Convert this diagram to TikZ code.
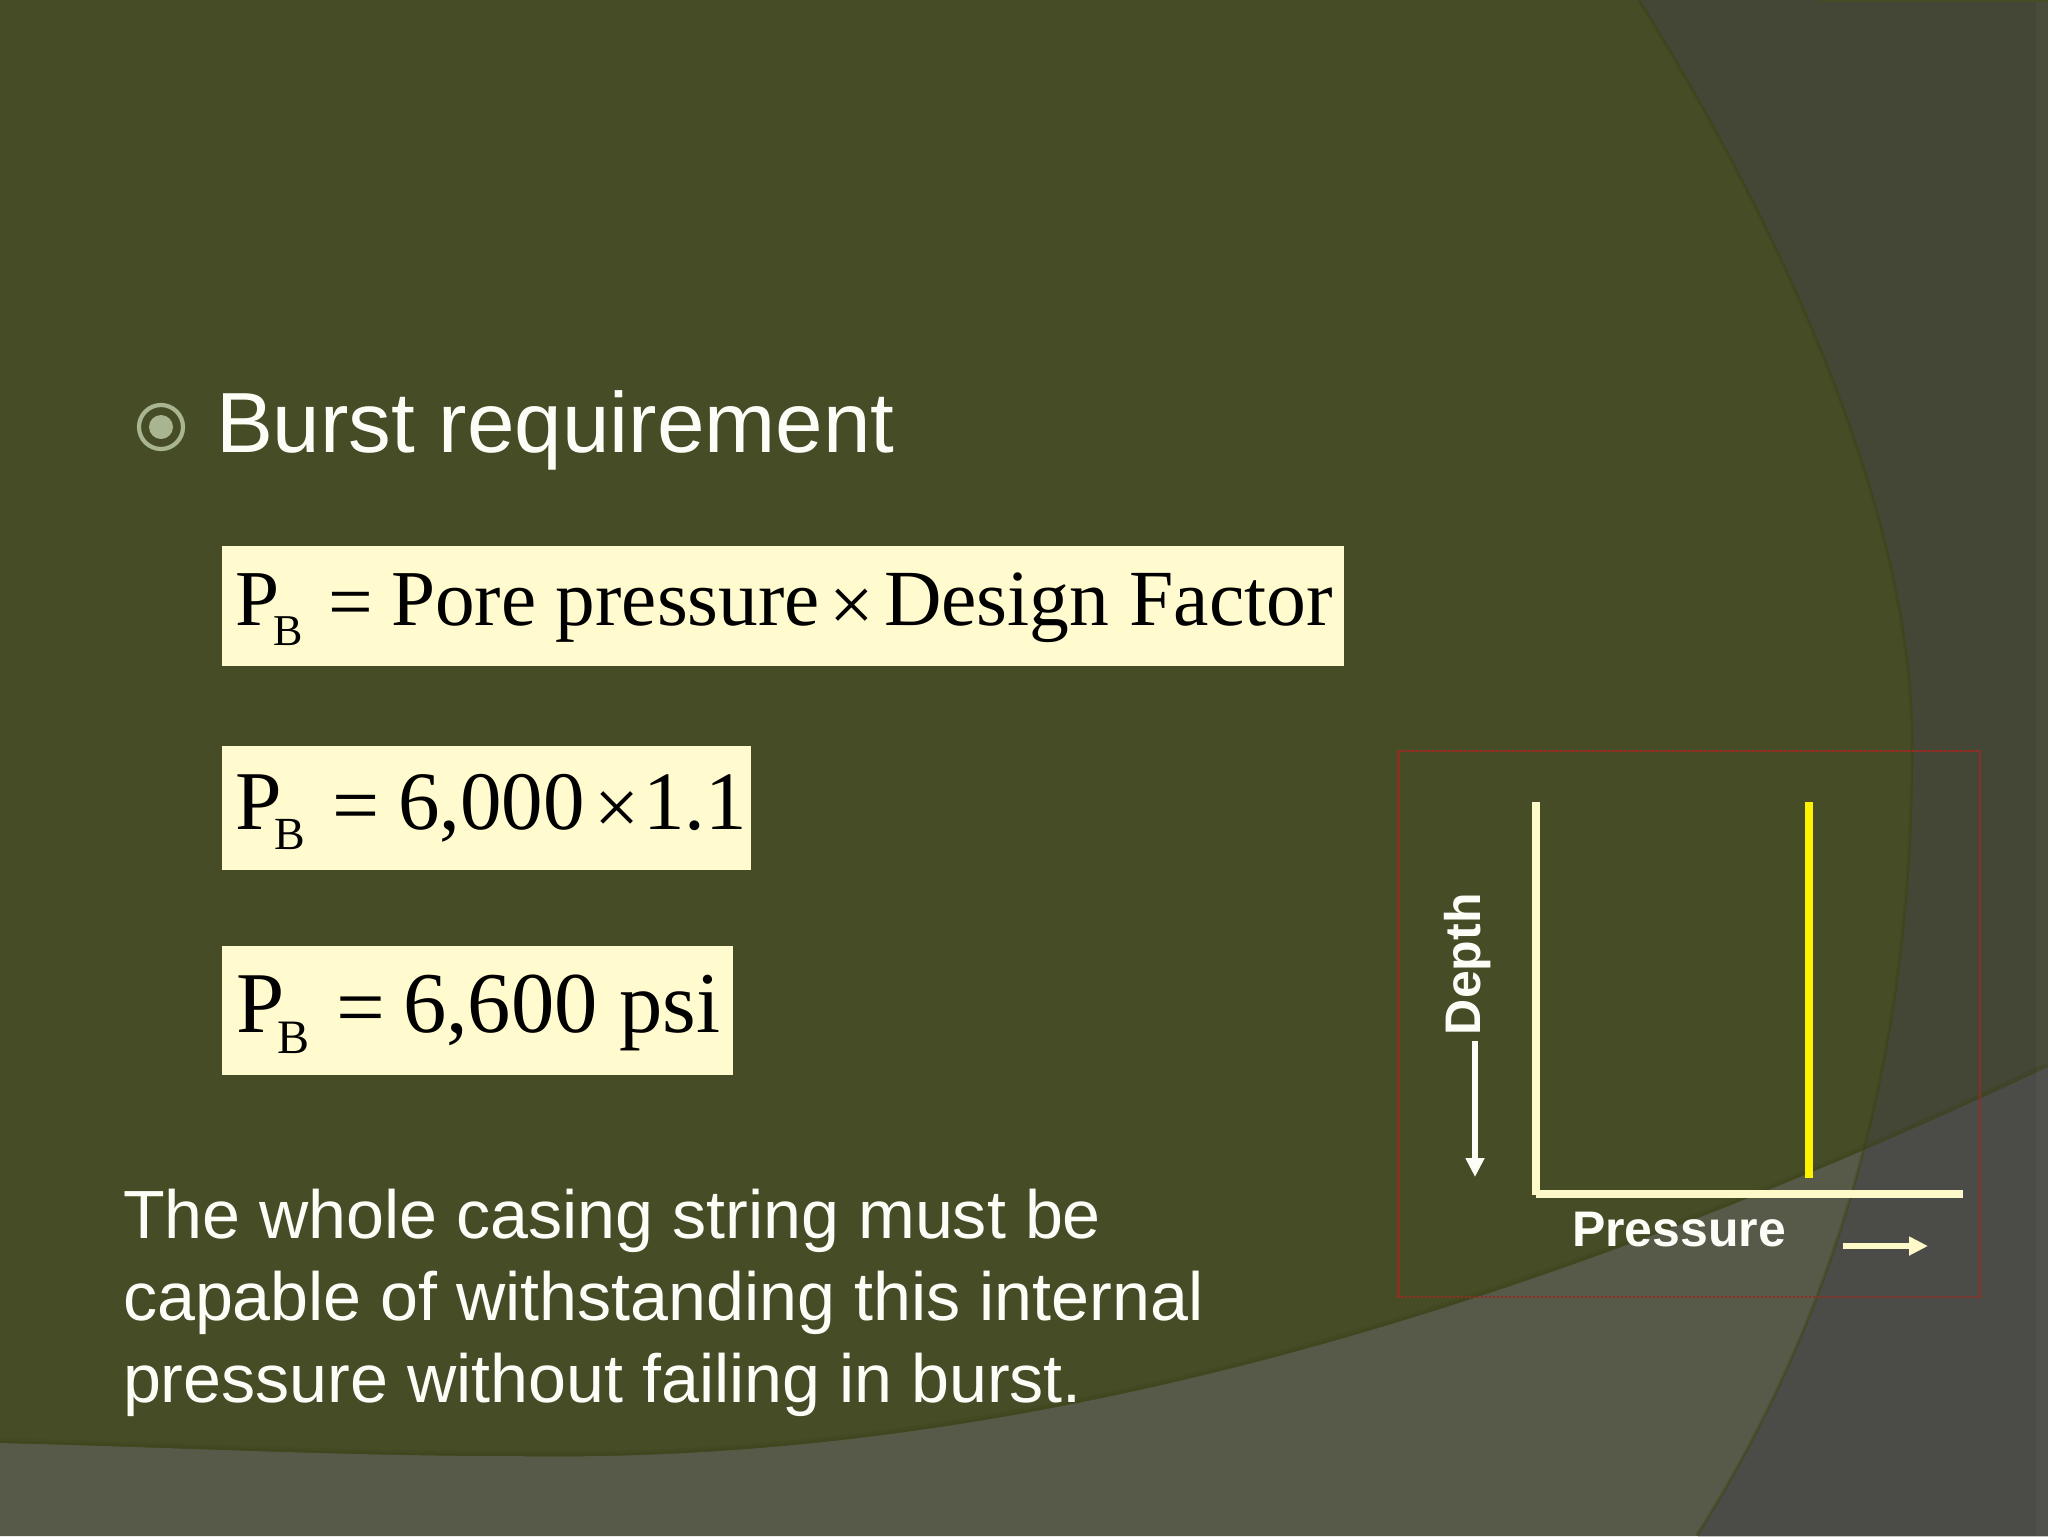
\documentclass[tikz,border=0pt]{standalone}
\usepackage{fontspec}
\setmainfont{Liberation Sans}
\newfontfamily\eqfont{Liberation Serif}
\usetikzlibrary{arrows.meta}
\definecolor{baseolive}{HTML}{464C26}
\definecolor{edgeolive}{HTML}{3C4217}
\definecolor{rightgrey}{HTML}{444735}
\definecolor{lowgrey}{HTML}{575A48}
\definecolor{cornergrey}{HTML}{4B4C47}
\definecolor{creamfill}{HTML}{FFFBCE}
\definecolor{creamline}{HTML}{FDF9C8}
\definecolor{bulletgreen}{HTML}{A9B491}
\definecolor{framered}{HTML}{9A2A22}
\definecolor{softwhite}{HTML}{FDFDF8}
\tikzset{
  txt/.style={anchor=base west,inner sep=0pt,outer sep=0pt},
  eqbox/.style={fill=creamfill,draw=none},
  bodytxt/.style={txt,text=softwhite},
  eqtxt/.style={txt,text=black},
  labeltxt/.style={txt,text=softwhite,font=\bfseries\fontsize{25}{25}\selectfont},
  axisline/.style={creamline,line width=4.2pt},
}
\def\arcpath{(1640,0) .. controls (1790,240) and (1913,520) .. (1913,740) .. controls (1915,1060) and (1835,1320) .. (1698,1536)}
\def\lowpath{(0,1443) .. controls (170,1447) and (340,1456) .. (510,1456) .. controls (1000,1465) and (1500,1325) .. (2048,1067)}
\newcommand{\PB}[3]{P\kern#1pt\raisebox{#2pt}{\fontsize{#3}{#3}\selectfont B}}
\begin{document}
\begin{tikzpicture}[x=0.5pt,y=-0.5pt]
\useasboundingbox (0,0) rectangle (2048,1536);
\fill[baseolive] (0,0) rectangle (2048,1536);
% region right of the arc
\fill[rightgrey] \arcpath -- (2048,1536) -- (2048,0) -- cycle;
% band below the lower curve
\fill[lowgrey] \lowpath -- (2048,1536) -- (0,1536) -- cycle;
\begin{scope}
  \clip \arcpath -- (2048,1536) -- (2048,0) -- cycle;
  \fill[cornergrey] \lowpath -- (2048,1536) -- (0,1536) -- cycle;
\end{scope}
% soft darker rims
\begin{scope}
  \clip (0,0) -- \arcpath -- (0,1536) -- cycle;
  \draw[edgeolive,line width=3pt,opacity=.35] \arcpath;
  \draw[edgeolive,line width=1.5pt,opacity=.5] \arcpath;
\end{scope}
\begin{scope}
  \clip \lowpath -- (2048,0) -- (0,0) -- cycle;
  \draw[edgeolive,line width=5pt,opacity=.25] \lowpath;
  \draw[edgeolive,line width=2.5pt,opacity=.3] \lowpath;
\end{scope}
\fill[white,opacity=.03] (2036,0) rectangle (2048,1536);
\fill[baseolive] (1820,0) rectangle (2048,2);
% heading
\draw[bulletgreen,line width=2.1pt] (161,427) circle (22);
\fill[bulletgreen] (161,427) circle (12);
\node[bodytxt,font=\fontsize{42.7}{42.7}\selectfont] (heading) at (216,452) {Burst requirement};
% boxes
\fill[eqbox] (222,546) rectangle (1344,666);
\fill[eqbox] (222,746) rectangle (751,870);
\fill[eqbox] (222,945.5) rectangle (733,1075);
\begin{scope}[every node/.style={eqtxt}]
% equation 1
\node[font=\eqfont\fontsize{39.6}{39.6}\selectfont] (pa) at (235,625) {\PB{-3}{-10}{22}};
\node[font=\eqfont\fontsize{39.6}{39.6}\selectfont] (ea) at (328,628) {=};
\node[font=\eqfont\fontsize{39.6}{39.6}\selectfont] (pore) at (391,625) {Pore pressure};
\node[font=\eqfont\fontsize{39.6}{39.6}\selectfont] (xa) at (829,631) {×};
\node[font=\eqfont\fontsize{39.8}{39.8}\selectfont] (des) at (884,625) {Design Factor};
% equation 2
\node[font=\eqfont\fontsize{41.8}{41.8}\selectfont] (pb) at (235,829) {\PB{-3.5}{-10}{23}};
\node[font=\eqfont\fontsize{41.8}{41.8}\selectfont] (eb) at (332,833) {=};
\node[font=\eqfont\fontsize{41.5}{41.5}\selectfont] (numa) at (398,829) {6,000};
\node[font=\eqfont\fontsize{40}{40}\selectfont] (xb) at (594,834) {×};
\node[font=\eqfont\fontsize{41.5}{41.5}\selectfont] (numb) at (643,829) {1.1};
% equation 3
\node[font=\eqfont\fontsize{43.3}{43.3}\selectfont] (pc) at (236,1032.5) {\PB{-3.5}{-10.5}{24}};
\node[font=\eqfont\fontsize{43.3}{43.3}\selectfont] (ec) at (336,1036.5) {=};
\node[font=\eqfont\fontsize{43.3}{43.3}\selectfont] (res) at (403,1032.5) {6,600 psi};
\end{scope}
% paragraph
\node[bodytxt,font=\fontsize{34.1}{34.1}\selectfont] (la) at (123,1238) {The whole casing string must be};
\node[bodytxt,font=\fontsize{34.1}{34.1}\selectfont] (lb) at (123,1320) {capable of withstanding this internal};
\node[bodytxt,font=\fontsize{34.1}{34.1}\selectfont] (lc) at (123,1402) {pressure without failing in burst.};
% chart
\draw[framered,line width=1.1pt,dash pattern=on 1.4pt off .6pt] (1398.5,751) rectangle (1980,1297);
\draw[axisline] (1536,802) -- (1536,1195);
\draw[axisline] (1536,1194) -- (1963,1194);
\draw[yellow,line width=4.3pt] (1809,802) -- (1809,1178);
\node[labeltxt,rotate=90] (depth) at (1480.6,1035) {Depth};
\node[labeltxt] (press) at (1572,1246.5) {Pressure};
\draw[softwhite,line width=3pt,-{Triangle[length=9.5pt,width=9pt]}] (1475,1041) -- (1475,1177);
\draw[creamline,line width=3pt,-{Triangle[length=9.5pt,width=9pt]}] (1843,1246) -- (1928,1246);
\end{tikzpicture}
\end{document}
